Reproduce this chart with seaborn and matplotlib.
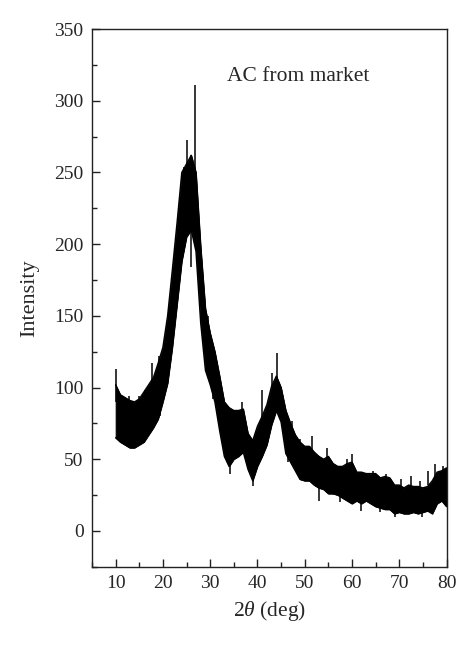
import matplotlib
matplotlib.use("Agg")
import matplotlib.pyplot as plt
from matplotlib.ticker import MultipleLocator
import seaborn as sns

# 2theta grid (deg) with the upper / lower edge of the noisy trace
deg = list(range(10, 81))
upper = [102, 95, 93, 91, 90, 92, 97, 102, 107, 117,
         128, 150, 182, 215, 250, 256, 262, 250, 198, 155,
         138, 125, 108, 90, 86, 84, 84, 85, 68, 63,
         73, 80, 88, 101, 108, 100, 84, 75, 67, 62,
         59, 59, 55, 52, 50, 52, 47, 45, 45, 47,
         48, 41, 41, 40, 40, 40, 37, 38, 37, 32,
         32, 30, 32, 31, 31, 30, 31, 35, 41, 42,
         44]
lower = [65, 62, 60, 58, 58, 60, 62, 67, 72, 78,
         90, 103, 128, 158, 188, 205, 210, 195, 145, 112,
         102, 90, 70, 52, 45, 50, 52, 55, 43, 35,
         45, 52, 60, 74, 84, 76, 54, 48, 42, 36,
         35, 35, 32, 30, 29, 26, 26, 25, 23, 21,
         19, 21, 19, 21, 19, 17, 16, 15, 15, 12,
         13, 12, 12, 13, 12, 13, 14, 12, 19, 21,
         17]

# single spikes sticking out of the band
spike_x = [10.0, 12.75, 14.9, 16.3, 17.7, 19.2, 21.3, 24.4, 25.1, 26.0,
           26.8, 29.5, 33.2, 36.7, 41.05, 43.0, 44.1, 47.3, 49.0, 51.5,
           54.7, 58.9, 60.1, 64.5, 67.3, 70.3, 72.4, 74.4, 76.1, 77.5, 79.3,
           11.3, 13.7, 19.4, 25.9, 30.5, 34.1, 39.0, 46.5, 53.0, 57.5,
           62.0, 66.0, 69.1, 74.8]
spike_lo = [90, 85, 85, 90, 100, 108, 140, 235, 245, 250,
            230, 130, 75, 78, 75, 100, 100, 68, 56, 54,
            48, 42, 44, 36, 34, 28, 29, 28, 32, 36, 38,
            62, 60, 80, 184, 92, 40, 31, 48, 21, 20,
            14, 13, 10, 10]
spike_hi = [113, 94, 94, 98, 117, 122, 156, 254, 273, 262,
            311, 150, 85, 90, 98, 110, 124, 77, 64, 66,
            58, 50, 54, 42, 40, 36, 38, 35, 42, 47, 45,
            66, 64, 88, 215, 104, 50, 42, 56, 31, 27,
            21, 18, 15, 15]

sns.set_style("ticks")
plt.rcParams["font.family"] = ["Liberation Serif", "DejaVu Serif"]
plt.rcParams["mathtext.fontset"] = "custom"
plt.rcParams["mathtext.rm"] = "Liberation Serif"
plt.rcParams["mathtext.it"] = "Liberation Serif:italic"

fig = plt.figure(figsize=(4.74, 6.47), dpi=100)
ax = fig.add_axes([0.194, 0.124, 0.748, 0.831])

ax.fill_between(deg, lower, upper, color="black", lw=0.6)
sns.lineplot(x=deg, y=upper, color="black", lw=1.0, ax=ax)
sns.lineplot(x=deg, y=lower, color="black", lw=1.0, ax=ax)
ax.vlines(spike_x, spike_lo, spike_hi, color="black", lw=1.1)

ax.set_xlim(5, 80)
ax.set_ylim(-25, 350)
ax.xaxis.set_major_locator(MultipleLocator(10))
ax.xaxis.set_minor_locator(MultipleLocator(5))
ax.yaxis.set_major_locator(MultipleLocator(50))
ax.yaxis.set_minor_locator(MultipleLocator(25))
ax.set_xticks(range(10, 81, 10))
ax.tick_params(which="both", direction="in", width=1.0, color="#222222",
               labelsize=14, top=False, right=False)
ax.tick_params(which="major", length=6, pad=6)
ax.tick_params(which="minor", length=3.6)
for s in ax.spines.values():
    s.set_linewidth(1.0)
    s.set_color("#222222")

ax.set_xlabel(r"2$\mathit{\theta}$ (deg)", fontsize=15.5, labelpad=5)
ax.set_ylabel("Intensity", fontsize=16, labelpad=11)
ax.text(33.6, 317, "AC from market", fontsize=15.5, va="center", ha="left")

fig.savefig("out.png", dpi=100)
plt.close(fig)
